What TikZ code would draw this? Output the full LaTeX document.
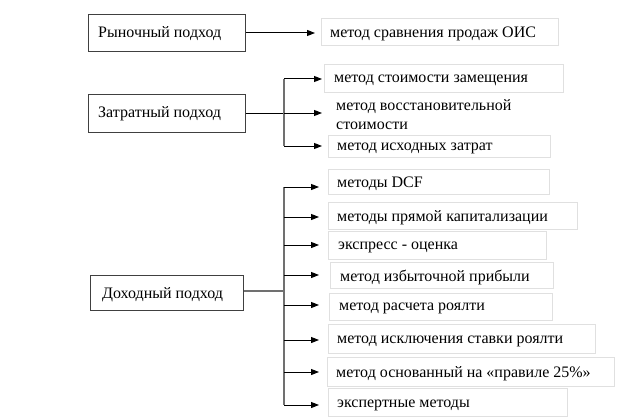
\documentclass[tikz,border=0pt]{standalone}
\usepackage{fontspec}
\setmainfont{Liberation Serif}
\usetikzlibrary{arrows.meta}
\definecolor{lightedge}{HTML}{E0E0E0}
\definecolor{darkedge}{HTML}{404040}
\definecolor{branch}{HTML}{707070}
\begin{document}
\begin{tikzpicture}[x=1pt,y=-1pt,
  every node/.style={font=\fontsize{16}{19}\selectfont},
  approach/.style={draw=darkedge, line width=1.3pt, anchor=north west, inner xsep=0pt, inner ysep=0pt},
  method/.style={draw=lightedge, line width=1pt, fill=white, anchor=north west, inner xsep=0pt, inner ysep=0pt},
  txt/.style={anchor=west, inner sep=0pt},
  conn/.style={line width=1pt, black},
  arr/.style={line width=1pt, black, -{Triangle[length=8pt,width=6pt]}},
  trunk/.style={line width=1.3pt, branch}]
\useasboundingbox (0,0) rectangle (644,417);
% approach boxes
\node[approach, minimum width=157pt, minimum height=37pt] (R) at (88,14) {};
\node[txt] at (98,34) {Рыночный подход};
\node[approach, minimum width=157pt, minimum height=38pt] (Z) at (88,94) {};
\node[txt] at (98,114) {Затратный подход};
\node[approach, minimum width=153pt, minimum height=35pt] (D) at (90,275) {};
\node[txt] at (102,295) {Доходный подход};
% method boxes
\node[method, minimum width=237pt, minimum height=27pt] (M0) at (321,18) {};
\node[txt] at (330,34) {метод сравнения продаж ОИС};
\node[method, minimum width=239pt, minimum height=28pt] (Z1) at (324,64) {};
\node[txt] at (334,80) {метод стоимости замещения};
\node[method, draw=none, minimum width=239pt, minimum height=42pt] (Z2) at (326,93) {};
\node[txt, align=left, anchor=north west] at (336,99) {метод восстановительной\\стоимости};
\node[method, minimum width=222pt, minimum height=22pt] (Z3) at (328,135) {};
\node[txt] at (337,148) {метод исходных затрат};
\node[method, minimum width=221pt, minimum height=25pt] (D1) at (328,169) {};
\node[txt] at (337,184) {методы DCF};
\node[method, minimum width=249pt, minimum height=27pt] (D2) at (328,202) {};
\node[txt] at (337,218) {методы прямой капитализации};
\node[method, minimum width=218pt, minimum height=28pt] (D3) at (328,231) {};
\node[txt] at (338,247) {экспресс - оценка};
\node[method, minimum width=223pt, minimum height=26pt] (D4) at (330,262) {};
\node[txt] at (340,277) {метод избыточной прибыли};
\node[method, minimum width=223pt, minimum height=27pt] (D5) at (329,293) {};
\node[txt] at (339,308) {метод расчета роялти};
\node[method, minimum width=267pt, minimum height=29pt] (D6) at (328,324) {};
\node[txt] at (337,341) {метод исключения ставки роялти};
\node[method, minimum width=287pt, minimum height=29pt] (D7) at (327,357) {};
\node[txt] at (336,374) {метод основанный на «правиле 25\%»};
\node[method, minimum width=239pt, minimum height=28pt] (D8) at (328,388) {};
\node[txt] at (337,405) {экспертные методы};
% connectors: market
\draw[arr, shorten >=6pt] (R.east |- 0,33) -- (M0.west |- 0,33);
% cost
\coordinate (zt) at (284,79);
\coordinate (zm) at (284,113);
\coordinate (zb) at (284,146);
\draw[conn] (Z.east |- zm) -- (zm);
\draw[trunk] (zt) -- (zb);
\draw[arr, shorten >=2pt] (zt) -- (zt -| Z1.west);
\draw[arr, shorten >=4pt] (zm) -- (zm -| Z2.west);
\draw[arr, shorten >=6pt] (zb) -- (zb -| Z3.west);
% income
\coordinate (d1) at (284,187);
\coordinate (d2) at (284,217);
\coordinate (d3) at (284,245);
\coordinate (d4) at (284,275);
\coordinate (d5) at (284,305);
\coordinate (d6) at (284,340);
\coordinate (d7) at (284,372);
\coordinate (d8) at (284,405);
\coordinate (dm) at (284,291);
\draw[trunk] (D.east |- dm) -- (dm);
\draw[trunk] (d1) -- (d8);
\draw[arr, shorten >=9pt] (d1) -- (d1 -| D1.west);
\draw[arr, shorten >=9pt] (d2) -- (d2 -| D2.west);
\draw[arr, shorten >=9pt] (d3) -- (d3 -| D3.west);
\draw[arr, shorten >=11pt] (d4) -- (d4 -| D4.west);
\draw[arr, shorten >=10pt] (d5) -- (d5 -| D5.west);
\draw[arr, shorten >=9pt] (d6) -- (d6 -| D6.west);
\draw[arr, shorten >=8pt] (d7) -- (d7 -| D7.west);
\draw[arr, shorten >=9pt] (d8) -- (d8 -| D8.west);
\end{tikzpicture}
\end{document}
